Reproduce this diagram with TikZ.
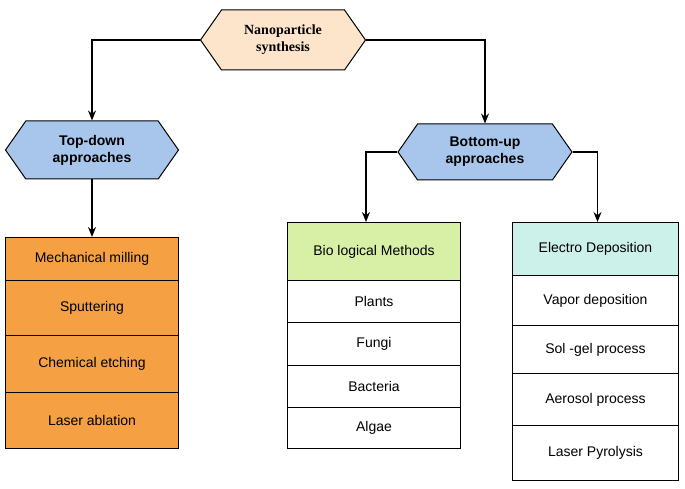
\documentclass[tikz,border=0pt]{standalone}
\usepackage{fontspec}
\setmainfont{Liberation Sans}
\newfontfamily\serifbf{Liberation Serif}
\usetikzlibrary{arrows.meta,shapes.symbols}
\definecolor{peach}{HTML}{FDE5CC}
\definecolor{hexblue}{HTML}{A8C6EC}
\definecolor{boxorange}{HTML}{F5A043}
\definecolor{biogreen}{HTML}{D8F0A6}
\definecolor{elcyan}{HTML}{CCF0EA}

\begin{document}
\begin{tikzpicture}[x=1pt,y=-1pt,
    hexnode/.style={draw, line width=1pt, signal, signal to=east and west, signal pointer angle=110,
        inner sep=0pt, align=center, font=\bfseries\fontsize{14}{17}\selectfont},
    cell/.style={draw, line width=1pt, anchor=north west, inner sep=0pt, font=\fontsize{14}{17}\selectfont},
    link/.style={line width=1.4pt, -{Stealth[length=10pt,width=8pt]}}
]
    \useasboundingbox (0,0) rectangle (685,489);

    % Hexagons
    \node[hexnode, fill=peach, minimum width=165, minimum height=60, font=\serifbf\bfseries\fontsize{14}{17}\selectfont]
        (root) at (283,40) {Nanoparticle\\synthesis};
    \node[hexnode, fill=hexblue, minimum width=173, minimum height=58] (top) at (92,150) {Top-down\\approaches};
    \node[hexnode, fill=hexblue, minimum width=174, minimum height=56] (bot) at (485,152) {Bottom-up\\approaches};

    % Top-down column
    \node[cell, fill=boxorange, minimum width=173, minimum height=43] (mill) at (5,237) {Mechanical milling};
    \node[cell, fill=boxorange, minimum width=173, minimum height=55] (sput) at (5,280) {Sputtering};
    \node[cell, fill=boxorange, minimum width=173, minimum height=57] (etch) at (5,335) {Chemical etching};
    \node[cell, fill=boxorange, minimum width=173, minimum height=56] (abl) at (5,392) {Laser ablation};

    % Biological column
    \node[cell, fill=biogreen, minimum width=173, minimum height=58] (bio) at (287,222) {Bio logical Methods};
    \node[cell, fill=white, minimum width=173, minimum height=42] (plant) at (287,280) {Plants};
    \node[cell, fill=white, minimum width=173, minimum height=43] (fungi) at (287,322) {Fungi};
    \node[cell, fill=white, minimum width=173, minimum height=42] (bact) at (287,365) {Bacteria};
    \node[cell, fill=white, minimum width=173, minimum height=41] (alga) at (287,407) {Algae};

    % Electro deposition column
    \node[cell, fill=elcyan, minimum width=166, minimum height=53] (elec) at (512,222) {Electro Deposition};
    \node[cell, fill=white, minimum width=166, minimum height=50] (vapor) at (512,275) {Vapor deposition};
    \node[cell, fill=white, minimum width=166, minimum height=48] (solgel) at (512,325) {Sol -gel process};
    \node[cell, fill=white, minimum width=166, minimum height=52] (aero) at (512,373) {Aerosol process};
    \node[cell, fill=white, minimum width=166, minimum height=55] (pyro) at (512,425) {Laser Pyrolysis};

    % Connectors
    \draw[link] (root.west) -| (top.north);
    \draw[link] (root.east) -| (bot.north);
    \draw[link] (top.south) -- (mill.north);
    \draw[link] (bot.west) -| ([xshift=-8]bio.north);
    \draw[link] (bot.east) -| ([xshift=2]elec.north);
\end{tikzpicture}
\end{document}
